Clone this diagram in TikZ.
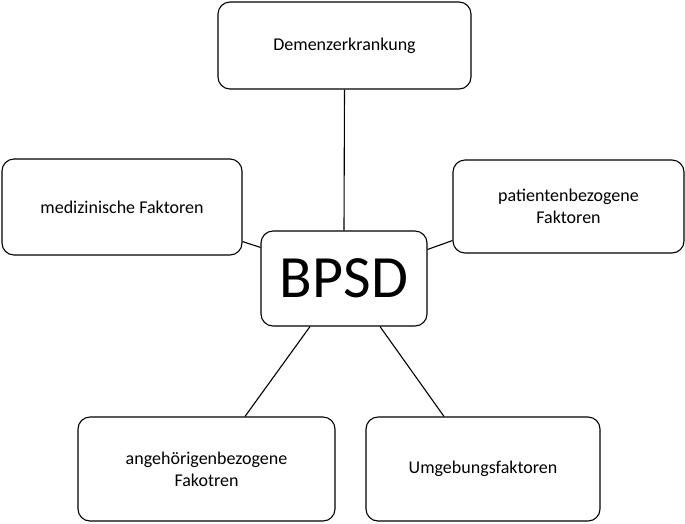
\documentclass[tikz,border=0pt]{standalone}
\usepackage{fontspec}
\setmainfont{Carlito}
\begin{document}
\begin{tikzpicture}[x=1pt,y=-1pt,
  box/.style={draw,line width=1.1pt,rounded corners=12pt,align=center,font=\fontsize{18}{22}\selectfont,inner sep=0pt},
  conn/.style={line width=1.1pt}]
\useasboundingbox (0,0) rectangle (685,523);
\node[box,minimum width=253pt,minimum height=87pt] (dem) at (344.5,45.5) {Demenzerkrankung};
\node[box,minimum width=240pt,minimum height=96pt] (med) at (122,207) {medizinische Faktoren};
\node[box,minimum width=231pt,minimum height=93pt] (pat) at (568.5,206.5) {patientenbezogene\\Faktoren};
\node[box,minimum width=166pt,minimum height=95pt,font=\fontsize{60}{60}\selectfont] (bpsd) at (344,278.5) {BPSD};
\node[box,minimum width=257pt,minimum height=104pt] (ang) at (206.5,469) {angehörigenbezogene\\Fakotren};
\node[box,minimum width=234pt,minimum height=104pt] (umg) at (483,469) {Umgebungsfaktoren};
\draw[conn] (dem.south) -- (bpsd.north);
\draw[conn] ([yshift=14pt]med.south east) -- ([yshift=-17pt]bpsd.north west);
\draw[conn] ([yshift=13pt]pat.south west) -- ([yshift=-19pt]bpsd.north east);
\draw[conn] ([xshift=38.5pt]ang.north) -- ([xshift=-34pt]bpsd.south);
\draw[conn] ([xshift=-39pt]umg.north) -- ([xshift=36pt]bpsd.south);
\end{tikzpicture}
\end{document}
